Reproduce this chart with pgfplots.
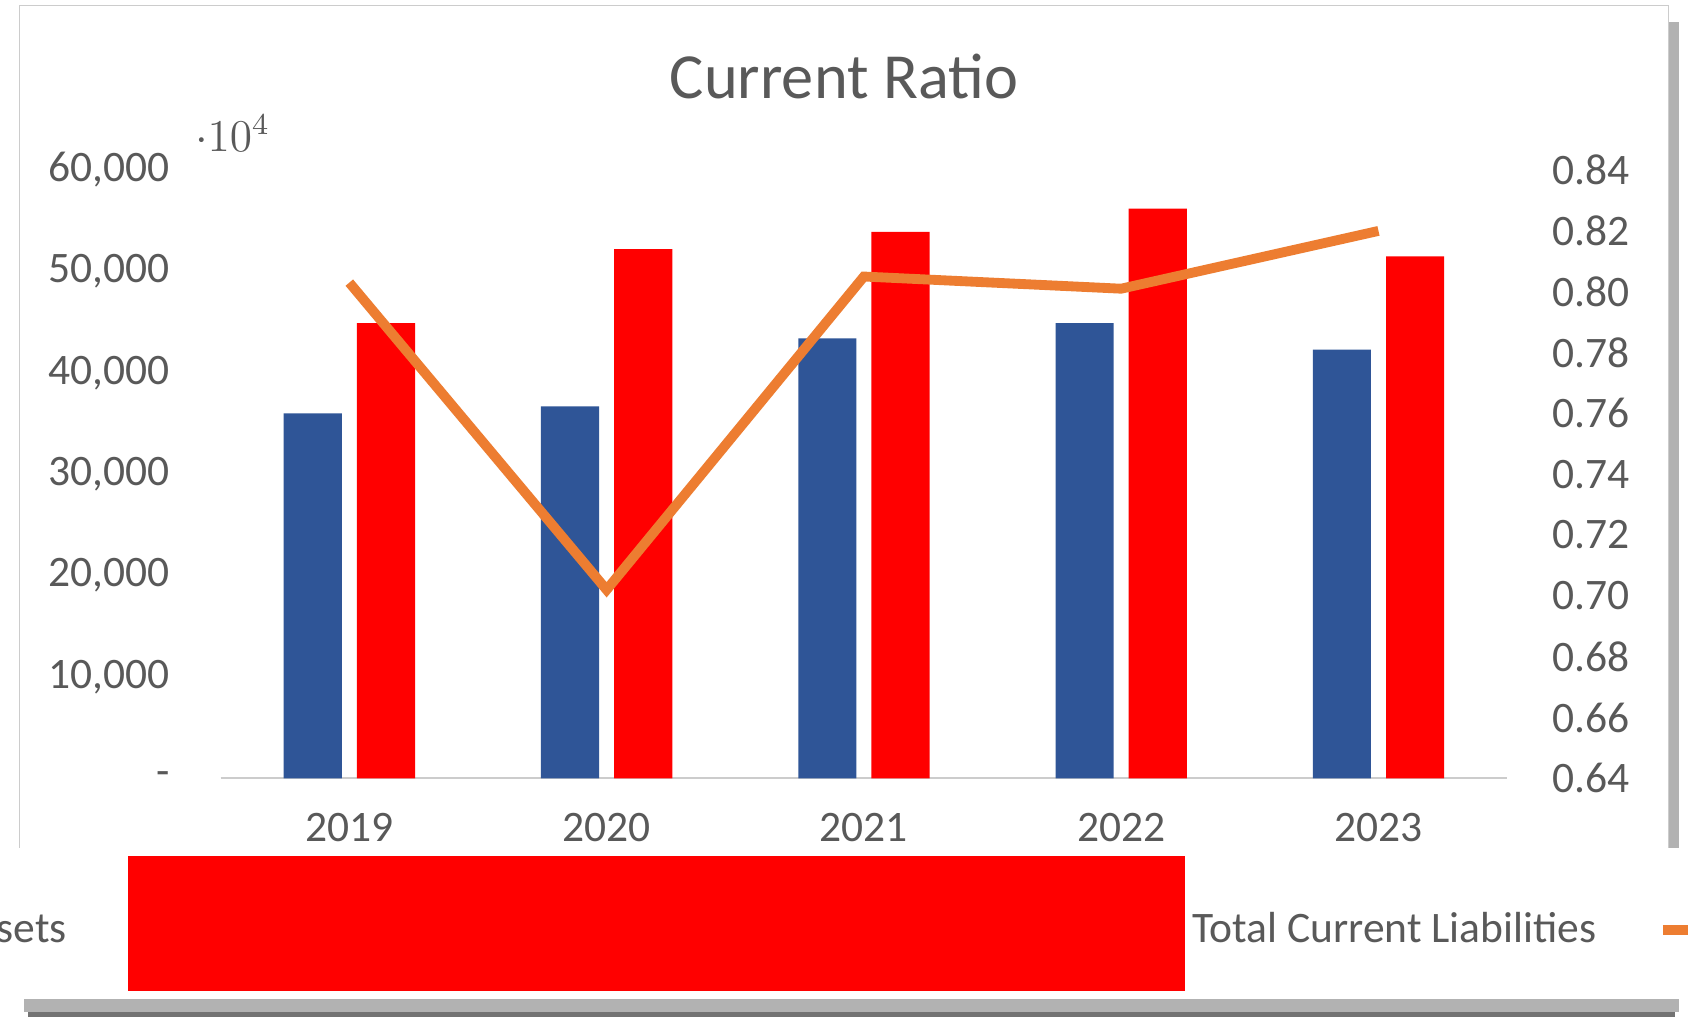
\documentclass[border=0pt]{standalone}
\usepackage{pgfplots}
\pgfplotsset{compat=1.18}
\usepackage{fontspec}
\setmainfont{Carlito}
\definecolor{cblue}{HTML}{2F5597}
\definecolor{cred}{HTML}{FF0000}
\definecolor{corange}{HTML}{ED7D31}
\definecolor{ctext}{HTML}{595959}
\begin{document}
\begin{tikzpicture}
\useasboundingbox (0,0) rectangle (15.68,9.55);
\fill[black!55] (0.26,0.1) rectangle (15.56,9.3);
\fill[black!30] (0.22,0.15) rectangle (15.6,9.35);
\fill[white] (0.18,0.37) rectangle (15.50,9.50);
\draw[black!20] (0.18,0.37) rectangle (15.50,9.50);
\node[text=ctext,font=\fontsize{17}{20}\selectfont] at (7.84,8.84) {Current Ratio};
\begin{axis}[at={(2.05cm,2.32cm)},anchor=south west,scale only axis,
  width=11.95cm,height=5.65cm,
  xmin=-0.5,xmax=4.5,ymin=0,ymax=60000,
  axis line style={draw=none},axis x line*=bottom,
  xtick={0,1,2,3,4},xticklabels={2019,2020,2021,2022,2023},
  ytick={0,10000,20000,30000,40000,50000,60000},
  yticklabels={-,{10,000},{20,000},{30,000},{40,000},{50,000},{60,000}},
  major tick length=0,
  tick label style={text=ctext,font=\fontsize{11.5}{13}\selectfont},
  yticklabel style={xshift=-0.35cm},
  xticklabel style={yshift=-0.2cm},
  ]
\draw[black!20,line width=0.8pt] (axis cs:-0.5,0) -- (axis cs:4.5,0);
\addplot[ybar,bar width=0.54cm,bar shift=-0.34cm,fill=cblue,draw=none] coordinates {(0,36000) (1,36700) (2,43400) (3,44900) (4,42300)};
\addplot[ybar,bar width=0.54cm,bar shift=0.34cm,fill=cred,draw=none] coordinates {(0,44900) (1,52200) (2,53900) (3,56200) (4,51500)};
\end{axis}
\begin{axis}[at={(2.05cm,2.32cm)},anchor=south west,scale only axis,
  width=11.95cm,height=5.65cm,
  xmin=-0.5,xmax=4.5,ymin=0.64,ymax=0.84,
  axis line style={draw=none},axis y line*=right,axis x line=none,
  ytick={0.64,0.66,...,0.841},
  yticklabel style={/pgf/number format/fixed,/pgf/number format/fixed zerofill,/pgf/number format/precision=2,xshift=0.3cm},
  /pgf/number format/assume math mode=true,
  major tick length=0,
  tick label style={text=ctext,font=\fontsize{11.5}{13}\selectfont},
  legend style={at={(0.49,-0.239)},anchor=center,draw=none,
    legend columns=3,font=\fontsize{11.5}{13}\selectfont,text=ctext,
    /tikz/every even column/.append style={column sep=0.5cm}},
  ]
\addlegendimage{legend image code/.code={\fill[cblue] (0,-0.1) rectangle (0.82,0.12);}}
\addlegendentry{Total Current Assets}
\addlegendimage{legend image code/.code={\fill[cred] (0,-0.1) rectangle (0.82,0.12);}}
\addlegendentry{Total Current Liabilities}
\addplot[corange,line width=2.6pt,legend image code/.code={\draw[corange,line width=2.6pt] (0,0) -- (0.88,0);}] coordinates {(0,0.803) (1,0.702) (2,0.805) (3,0.801) (4,0.820)};
\addlegendentry{Current Ratio}
\end{axis}
\end{tikzpicture}
\end{document}
